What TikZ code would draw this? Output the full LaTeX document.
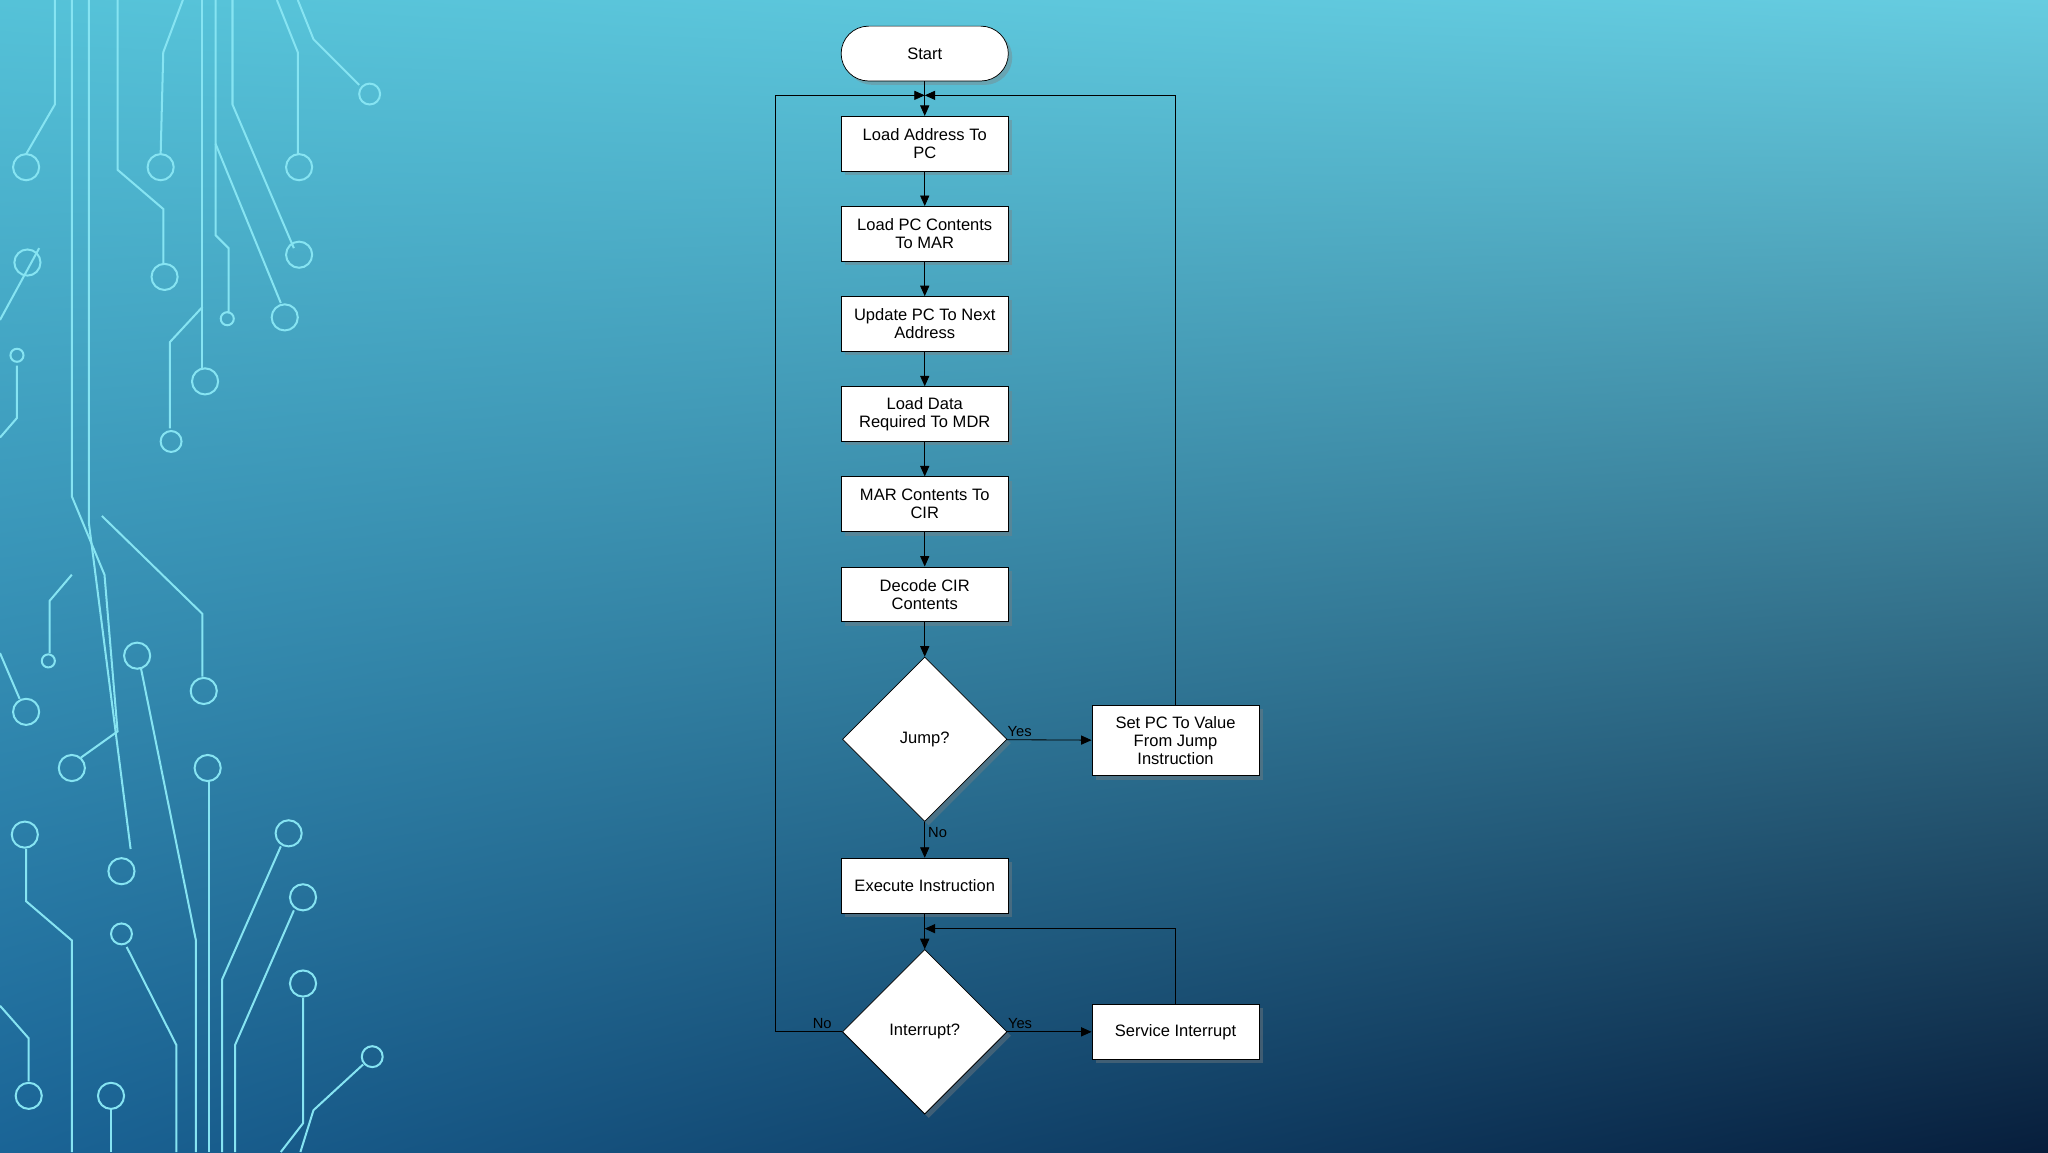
\documentclass[tikz,border=0pt]{standalone}
\usepackage{fontspec}
\setmainfont{Liberation Sans}
\usetikzlibrary{shapes.geometric,arrows.meta,shadows,shadings}
\definecolor{bgA}{HTML}{55C2D8}
\definecolor{bgB}{HTML}{66CCE0}
\definecolor{bgC}{HTML}{1A6496}
\definecolor{bgD}{HTML}{071E3C}
\definecolor{circ}{HTML}{86E4F2}
\tikzset{
 box/.style={draw=black,line width=0.8pt,fill=white,minimum width=6.4cm,minimum height=2.1cm,align=center,font=\fontsize{18}{19.5}\selectfont,drop shadow={opacity=0.4,shadow xshift=0.15cm,shadow yshift=-0.15cm},inner sep=1pt},
 pill/.style={box,rounded corners=1.05cm},
 dia/.style={draw=black,line width=0.8pt,fill=white,diamond,minimum width=6.3cm,minimum height=6.3cm,inner sep=0pt,font=\fontsize{18}{19.5}\selectfont,drop shadow={opacity=0.4,shadow xshift=0.15cm,shadow yshift=-0.15cm}},
 con/.style={draw=black,line width=0.9pt,-{Triangle[length=0.4cm,width=0.35cm]}},
 lab/.style={font=\fontsize{16}{18}\selectfont,text=black},
 ck/.style={draw=circ,line width=2.2pt},
 cc/.style={draw=circ,line width=2.2pt,fill=none}
}
\begin{document}
\begin{tikzpicture}[x=0.05cm,y=-0.05cm]
\shade[upper left=bgA,upper right=bgB,lower left=bgC,lower right=bgD] (0,0) rectangle (1568,882);
\useasboundingbox (0,0) rectangle (1568,882);
% circuit decoration
\draw[ck] (42,0)--(42,80)--(20,118);
\draw[cc] (20,128) circle (10);
\draw[ck] (55,0)--(55,380)--(80,440)--(90,560)--(62,580);
\draw[cc] (55,588) circle (10);
\draw[ck] (68,0)--(68,400)--(100,650);
\draw[cc] (93,667) circle (10);
\draw[ck] (90,0)--(90,130)--(125,160)--(125,202);
\draw[cc] (126,212) circle (10);
\draw[ck] (140,0)--(125,40)--(123,118);
\draw[cc] (123,128) circle (10);
\draw[ck] (155,0)--(155,282);
\draw[cc] (157,292) circle (10);
\draw[ck] (165,0)--(165,180)--(175,190)--(175,240);
\draw[cc] (174,244) circle (5);
\draw[ck] (178,0)--(178,80)--(225,190);
\draw[cc] (229,195) circle (10);
\draw[ck] (212,0)--(228,40)--(228,118);
\draw[cc] (229,128) circle (10);
\draw[ck] (228,0)--(240,30)--(275,65);
\draw[cc] (283,72) circle (8);
\draw[ck] (165,110)--(215,232);
\draw[cc] (218,243) circle (10);
\draw[ck] (155,235)--(130,262)--(130,328);
\draw[cc] (131,338) circle (8);
\draw[ck] (30,190)--(0,245);
\draw[cc] (21,201) circle (10);
\draw[ck] (13,280)--(13,320)--(0,335);
\draw[cc] (13,272) circle (5);
\draw[ck] (78,395)--(155,470)--(155,518);
\draw[cc] (156,529) circle (10);
\draw[ck] (55,440)--(38,460)--(38,500);
\draw[cc] (37,506) circle (5);
\draw[ck] (0,500)--(15,535);
\draw[cc] (20,545) circle (10);
\draw[ck] (108,512)--(150,720)--(150,882);
\draw[cc] (105,502) circle (10);
\draw[ck] (160,598)--(160,882);
\draw[cc] (159,588) circle (10);
\draw[ck] (20,650)--(20,690)--(55,720)--(55,882);
\draw[cc] (19,639) circle (10);
\draw[ck] (97,725)--(135,800)--(135,882);
\draw[cc] (93,715) circle (8);
\draw[ck] (215,648)--(170,750)--(170,882);
\draw[cc] (221,638) circle (10);
\draw[ck] (225,697)--(180,800)--(180,882);
\draw[cc] (232,687) circle (10);
\draw[ck] (232,764)--(232,860)--(215,882);
\draw[cc] (232,753) circle (10);
\draw[ck] (278,815)--(240,850)--(230,882);
\draw[cc] (285,809) circle (8);
\draw[ck] (0,770)--(22,795)--(22,828);
\draw[cc] (22,839) circle (10);
\draw[cc] (85,839) circle (10);
\draw[ck] (85,850)--(85,882);
% flowchart
\node[pill] (start) at (708,41) {Start};
\node[box] (b1) at (708,110) {Load Address To\\PC};
\node[box] (b2) at (708,179) {Load PC Contents\\To MAR};
\node[box] (b3) at (708,248) {Update PC To Next\\Address};
\node[box] (b4) at (708,317) {Load Data\\Required To MDR};
\node[box] (b5) at (708,386) {MAR Contents To\\CIR};
\node[box] (b6) at (708,455) {Decode CIR\\Contents};
\node[dia] (jump) at (708,566) {Jump?};
\node[box,minimum height=2.7cm] (setpc) at (900,567) {Set PC To Value\\From Jump\\Instruction};
\node[box] (exec) at (708,678) {Execute Instruction};
\node[dia] (intr) at (708,790) {Interrupt?};
\node[box] (serv) at (900,790) {Service Interrupt};
\coordinate (m0) at (708,73);
\coordinate (m1) at (708,711);
\draw[con] (start) -- (b1);
\draw[con] (b1) -- (b2);
\draw[con] (b2) -- (b3);
\draw[con] (b3) -- (b4);
\draw[con] (b4) -- (b5);
\draw[con] (b5) -- (b6);
\draw[con] (b6) -- (jump);
\draw[con] (jump) -- node[lab,above,pos=0.15]{Yes} (setpc);
\draw[con] (jump) -- node[lab,right,pos=0.3]{No} (exec);
\draw[con] (exec) -- (intr);
\draw[con] (intr) -- node[lab,above,pos=0.15]{Yes} (serv);
\draw[con] (serv.north) |- (m1);
\draw[con] (intr.west) -- node[lab,above,pos=0.3]{No} (594,790) |- (m0);
\draw[con] (setpc.north) |- (m0);
\end{tikzpicture}
\end{document}
